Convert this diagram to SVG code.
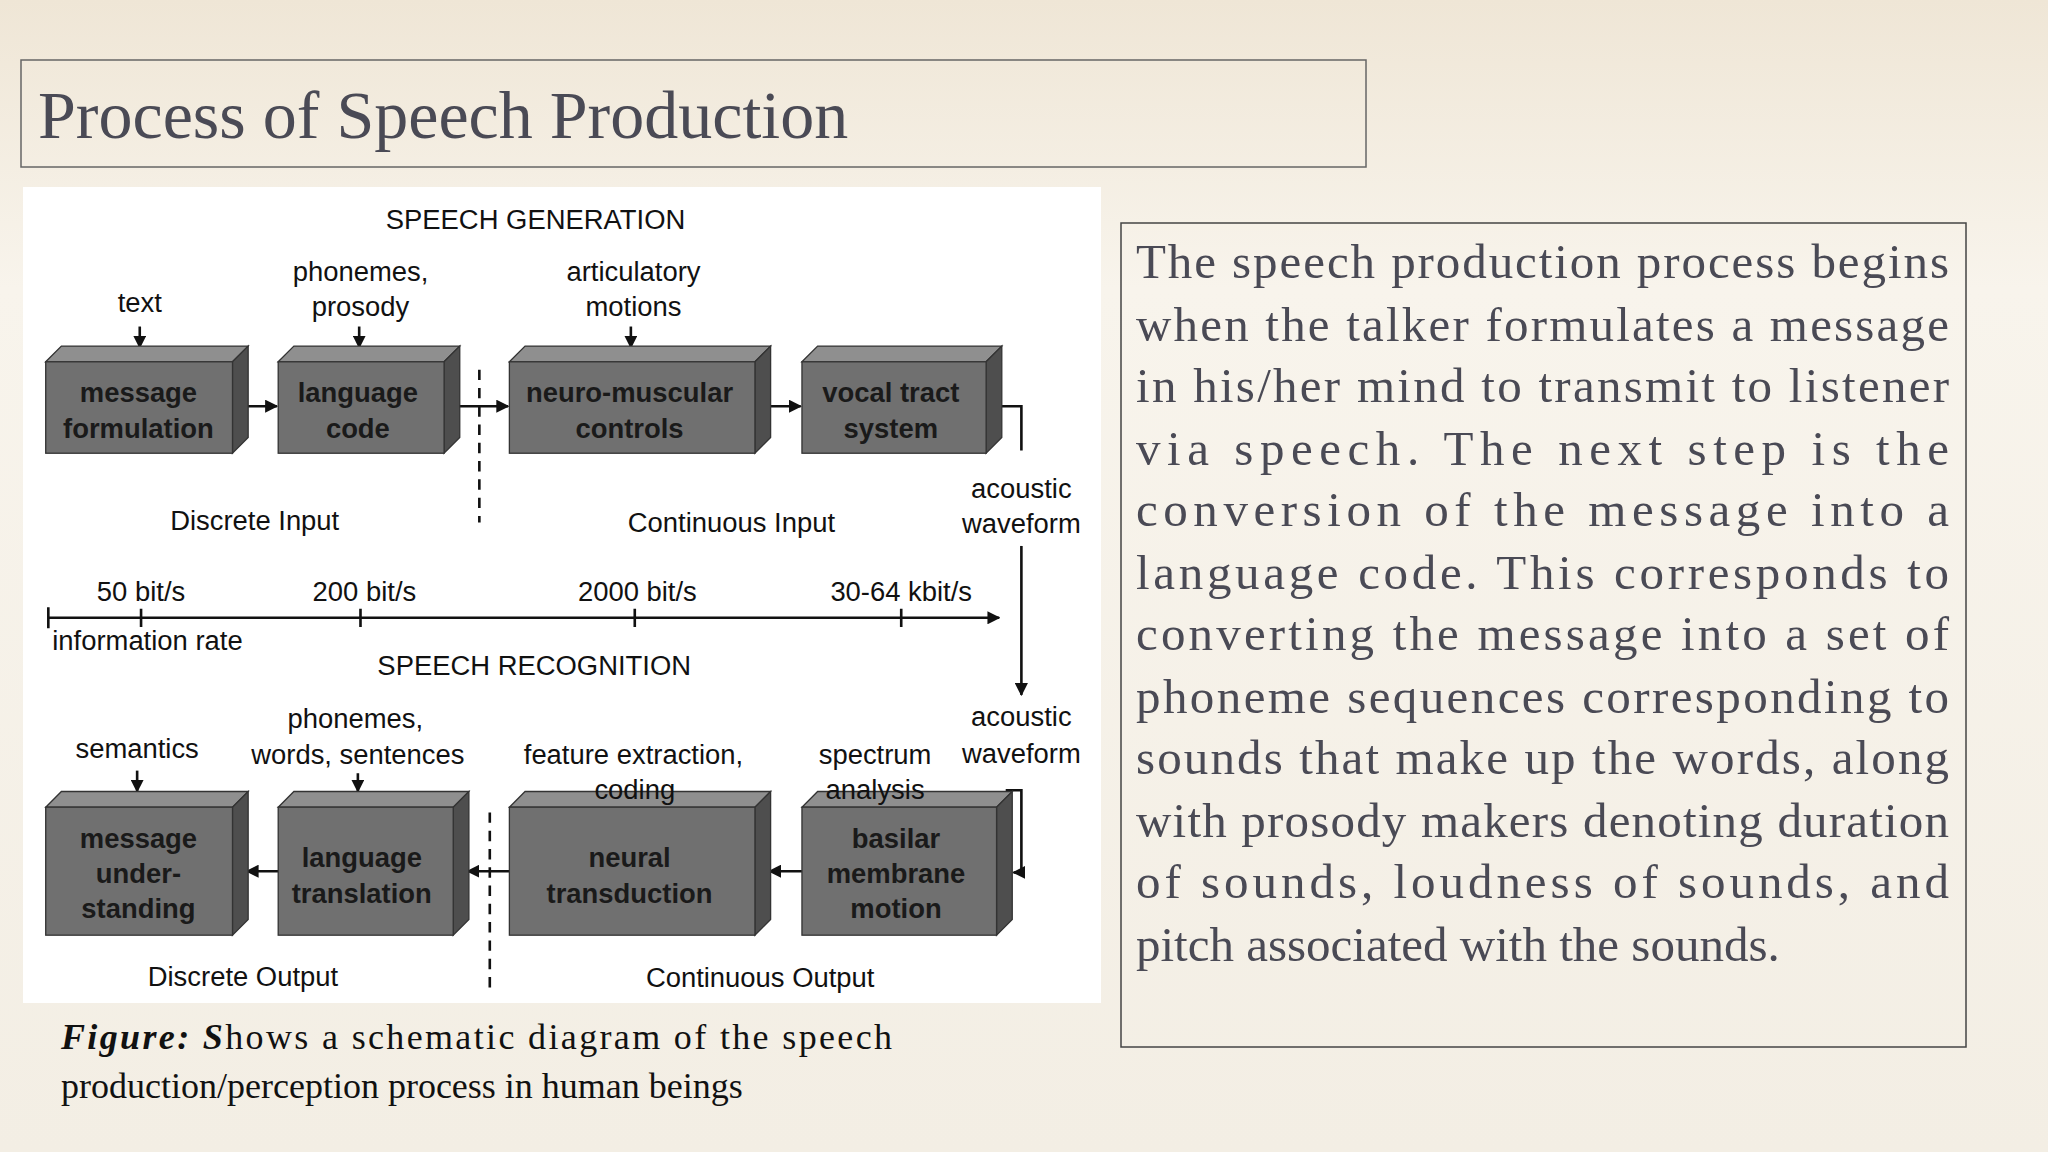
<svg xmlns="http://www.w3.org/2000/svg" width="2048" height="1152" viewBox="0 0 2048 1152">
<defs>
<linearGradient id="bg" x1="0" y1="0" x2="0" y2="1"><stop offset="0" stop-color="#efe6d6"/><stop offset="0.25" stop-color="#f8f4ec"/><stop offset="1" stop-color="#f3eee4"/></linearGradient>
<marker id="ah" viewBox="0 0 10 10" refX="9" refY="5" markerWidth="5" markerHeight="5" orient="auto"><path d="M0,0L10,5L0,10z" fill="#111"/></marker>
<style>
.t{font-family:"Liberation Sans",Arial,sans-serif;font-size:21px;fill:#111;text-anchor:middle}
.bt{font-family:"Liberation Sans",Arial,sans-serif;font-size:21px;fill:#1a1a1a;text-anchor:middle;font-weight:bold}
.ln{stroke:#111;stroke-width:2;fill:none}
.ar{stroke:#111;stroke-width:2;fill:none;marker-end:url(#ah)}
.fr{fill:#707070;stroke:#333;stroke-width:1}
.tp{fill:#8f8f8f;stroke:#333;stroke-width:1}
.sd{fill:#4e4e4e;stroke:#333;stroke-width:1}
.body{font-family:"Liberation Serif","Times New Roman",serif;font-size:49px;fill:#4a4a55}
.cap{font-family:"Liberation Serif","Times New Roman",serif;font-size:36px;fill:#111}
</style>
</defs>
<rect width="2048" height="1152" fill="url(#bg)"/>
<g id="title"><rect x="21" y="60" width="1345" height="107" fill="none" stroke="#666" stroke-width="1.5"/>
<text x="38" y="138" font-family="Liberation Serif,serif" font-size="68" fill="#4a4a55">Process of Speech Production</text></g>
<rect x="23" y="187" width="1078" height="816" fill="#fff"/>
<g transform="scale(1.30612)">
<g id="connectors">
<path class="ar" d="M107,250V266"/><path class="ar" d="M275,250V266"/><path class="ar" d="M483,250V266"/>
<path class="ar" d="M178,311H212"/><path class="ar" d="M340,311H389"/><path class="ar" d="M578,311H613"/>
<path class="ln" d="M767,311H782V345"/>
<path class="ar" d="M782,418V532"/>
<path class="ln" d="M770,605H782V668"/><path class="ar" d="M782,668H776"/>
<path class="ln" d="M367,283V400" stroke-dasharray="8,6"/><path class="ln" d="M375,622V760" stroke-dasharray="8,6"/>
<path class="ar" d="M37,473H765"/>
<path class="ln" d="M37,465V481M108,466V480M276,466V480M486,466V480M690,466V480"/>
<path class="ar" d="M105,590V606"/><path class="ar" d="M274,592V606"/>
<path class="ar" d="M614,667H589"/><path class="ar" d="M390,667H358"/><path class="ar" d="M213,667H189"/>
</g>
<g id="b1"><polygon class="tp" points="35,277 47,265 190,265 178,277"/><polygon class="sd" points="178,277 190,265 190,335 178,347"/><rect class="fr" x="35" y="277" width="143" height="70"/><text class="bt" x="106" y="308">message</text><text class="bt" x="106" y="335">formulation</text></g>
<g id="b2"><polygon class="tp" points="213,277 225,265 352,265 340,277"/><polygon class="sd" points="340,277 352,265 352,335 340,347"/><rect class="fr" x="213" y="277" width="127" height="70"/><text class="bt" x="274" y="308">language</text><text class="bt" x="274" y="335">code</text></g>
<g id="b3"><polygon class="tp" points="390,277 402,265 590,265 578,277"/><polygon class="sd" points="578,277 590,265 590,335 578,347"/><rect class="fr" x="390" y="277" width="188" height="70"/><text class="bt" x="482" y="308">neuro-muscular</text><text class="bt" x="482" y="335">controls</text></g>
<g id="b4"><polygon class="tp" points="614,277 626,265 767,265 755,277"/><polygon class="sd" points="755,277 767,265 767,335 755,347"/><rect class="fr" x="614" y="277" width="141" height="70"/><text class="bt" x="682" y="308">vocal tract</text><text class="bt" x="682" y="335">system</text></g>
<g id="b5"><polygon class="tp" points="35,618 47,606 190,606 178,618"/><polygon class="sd" points="178,618 190,606 190,704 178,716"/><rect class="fr" x="35" y="618" width="143" height="98"/><text class="bt" x="106" y="649">message</text><text class="bt" x="106" y="676">under-</text><text class="bt" x="106" y="703">standing</text></g>
<g id="b6"><polygon class="tp" points="213,618 225,606 359,606 347,618"/><polygon class="sd" points="347,618 359,606 359,704 347,716"/><rect class="fr" x="213" y="618" width="134" height="98"/><text class="bt" x="277" y="664">language</text><text class="bt" x="277" y="691">translation</text></g>
<g id="b7"><polygon class="tp" points="390,618 402,606 590,606 578,618"/><polygon class="sd" points="578,618 590,606 590,704 578,716"/><rect class="fr" x="390" y="618" width="188" height="98"/><text class="bt" x="482" y="664">neural</text><text class="bt" x="482" y="691">transduction</text></g>
<g id="b8"><polygon class="tp" points="614,618 626,606 775,606 763,618"/><polygon class="sd" points="763,618 775,606 775,704 763,716"/><rect class="fr" x="614" y="618" width="149" height="98"/><text class="bt" x="686" y="649">basilar</text><text class="bt" x="686" y="676">membrane</text><text class="bt" x="686" y="703">motion</text></g>
<g id="labels">
<text class="t" x="410" y="175">SPEECH GENERATION</text>
<text class="t" x="107" y="239">text</text>
<text class="t" x="276" y="215">phonemes,</text><text class="t" x="276" y="242">prosody</text>
<text class="t" x="485" y="215">articulatory</text><text class="t" x="485" y="242">motions</text>
<text class="t" x="782" y="381">acoustic</text><text class="t" x="782" y="408">waveform</text>
<text class="t" x="195" y="406">Discrete Input</text><text class="t" x="560" y="407">Continuous Input</text>
<text class="t" x="108" y="460">50 bit/s</text><text class="t" x="279" y="460">200 bit/s</text>
<text class="t" x="488" y="460">2000 bit/s</text><text class="t" x="690" y="460">30-64 kbit/s</text>
<text class="t" x="40" y="498" style="text-anchor:start">information rate</text>
<text class="t" x="409" y="517">SPEECH RECOGNITION</text>
<text class="t" x="105" y="580">semantics</text>
<text class="t" x="272" y="557">phonemes,</text><text class="t" x="274" y="585">words, sentences</text>
<text class="t" x="485" y="585">feature extraction,</text><text class="t" x="486" y="612">coding</text>
<text class="t" x="670" y="585">spectrum</text><text class="t" x="670" y="612">analysis</text>
<text class="t" x="782" y="556">acoustic</text><text class="t" x="782" y="584">waveform</text>
<text class="t" x="186" y="755">Discrete Output</text><text class="t" x="582" y="756">Continuous Output</text>
</g>
</g>
<g id="caption">
<text class="cap" x="61" y="1049" textLength="831" lengthAdjust="spacing"><tspan font-weight="bold" font-style="italic">Figure: S</tspan>hows a schematic diagram of the speech</text>
<text class="cap" x="61" y="1098">production/perception process in human beings</text>
</g>
<g id="textbox">
<rect x="1121" y="223" width="845" height="824" fill="none" stroke="#444" stroke-width="1.5"/>
<text class="body" x="1136" y="278" textLength="813" lengthAdjust="spacing">The speech production process begins</text>
<text class="body" x="1136" y="341" textLength="813" lengthAdjust="spacing">when the talker formulates a message</text>
<text class="body" x="1136" y="402" textLength="813" lengthAdjust="spacing">in his/her mind to transmit to listener</text>
<text class="body" x="1136" y="465" textLength="813" lengthAdjust="spacing">via speech. The next step is the</text>
<text class="body" x="1136" y="526" textLength="813" lengthAdjust="spacing">conversion of the message into a</text>
<text class="body" x="1136" y="589" textLength="813" lengthAdjust="spacing">language code. This corresponds to</text>
<text class="body" x="1136" y="650" textLength="813" lengthAdjust="spacing">converting the message into a set of</text>
<text class="body" x="1136" y="713" textLength="813" lengthAdjust="spacing">phoneme sequences corresponding to</text>
<text class="body" x="1136" y="774" textLength="813" lengthAdjust="spacing">sounds that make up the words, along</text>
<text class="body" x="1136" y="837" textLength="813" lengthAdjust="spacing">with prosody makers denoting duration</text>
<text class="body" x="1136" y="898" textLength="813" lengthAdjust="spacing">of sounds, loudness of sounds, and</text>
<text class="body" x="1136" y="961">pitch associated with the sounds.</text>
</g>
</svg>
